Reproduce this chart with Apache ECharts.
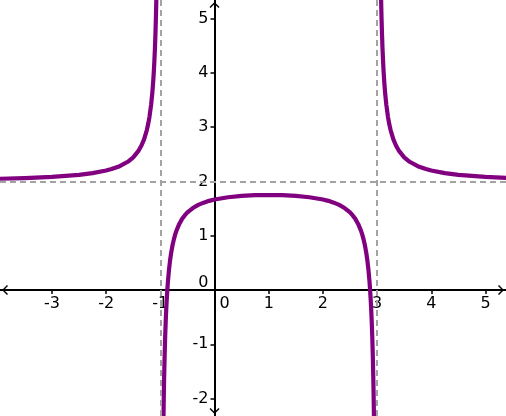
<!DOCTYPE html>
<html><head><meta charset="utf-8">
<script src="https://cdn.jsdelivr.net/npm/echarts@6/dist/echarts.min.js"></script>
<style>html,body{margin:0;padding:0;background:#fff}#c{width:506px;height:416px}</style>
</head><body><div id="c"></div>
<script>
// Values
const leftX  = [-4, -3.5, -3, -2.5, -2.25, -2, -1.9, -1.75, -1.6, -1.5, -1.4, -1.35, -1.3, -1.25, -1.225, -1.2, -1.17, -1.15, -1.14, -1.13, -1.12, -1.11, -1.1, -1.09, -1.08, -1.07, -1.06];
const leftY  = [2.048, 2.062, 2.083, 2.121, 2.152, 2.200, 2.227, 2.281, 2.362, 2.444, 2.568, 2.657, 2.775, 2.941, 3.052, 3.190, 3.411, 3.606, 3.725, 3.863, 4.023, 4.212, 4.439, 4.717, 5.064, 5.510, 6.105];
const midX   = [-0.945, -0.94, -0.935, -0.93, -0.92, -0.91, -0.9, -0.89, -0.88, -0.87, -0.86, -0.84, -0.82, -0.8, -0.775, -0.75, -0.725, -0.7, -0.65, -0.6, -0.55, -0.5, -0.4, -0.3, -0.2, -0.1, 0, 0.25, 0.5, 0.75, 1, 1.25, 1.5, 1.75, 2, 2.1, 2.2, 2.3, 2.4, 2.5, 2.55, 2.6, 2.65, 2.7, 2.725, 2.75, 2.775, 2.8, 2.82, 2.84, 2.86, 2.87, 2.88, 2.89, 2.9, 2.91, 2.92, 2.93, 2.935, 2.94, 2.945];
const midY   = [-2.609, -2.230, -1.910, -1.635, -1.189, -0.842, -0.564, -0.337, -0.148, 0.012, 0.150, 0.372, 0.546, 0.684, 0.823, 0.933, 1.024, 1.099, 1.217, 1.306, 1.374, 1.429, 1.510, 1.567, 1.609, 1.642, 1.667, 1.709, 1.733, 1.746, 1.750, 1.746, 1.733, 1.709, 1.667, 1.642, 1.609, 1.567, 1.510, 1.429, 1.374, 1.306, 1.217, 1.099, 1.024, 0.933, 0.823, 0.684, 0.546, 0.372, 0.150, 0.012, -0.148, -0.337, -0.564, -0.842, -1.189, -1.635, -1.910, -2.230, -2.609];
const rightX = [3.06, 3.07, 3.08, 3.09, 3.1, 3.11, 3.12, 3.13, 3.14, 3.15, 3.17, 3.2, 3.225, 3.25, 3.3, 3.35, 3.4, 3.5, 3.6, 3.75, 3.9, 4, 4.25, 4.5, 5, 5.5];
const rightY = [6.105, 5.510, 5.064, 4.717, 4.439, 4.212, 4.023, 3.863, 3.725, 3.606, 3.411, 3.190, 3.052, 2.941, 2.775, 2.657, 2.568, 2.444, 2.362, 2.281, 2.227, 2.200, 2.152, 2.121, 2.083, 2.062];

const xTickValues = [-3, -2, -1, 0, 1, 2, 3, 4, 5];
const xTickLabels = ['-3', '-2', '-1', '0', '1', '2', '3', '4', '5'];
const yTickValues = [-2, -1, 0, 1, 2, 3, 4, 5];
const yTickLabels = ['-2', '-1', '0', '1', '2', '3', '4', '5'];
const vAsymptotes = [-1, 3];
const hAsymptotes = [2];

const zip = (xs, ys) => xs.map((x, i) => [x, ys[i]]);
const fmt = (vals, labs, zeroStyle) => v => {
  const i = vals.findIndex(t => Math.abs(t - v) < 1e-9);
  if (i < 0) return '';
  return v === 0 ? '{' + zeroStyle + '|' + labs[i] + '}' : labs[i];
};
const arrow = 'path://M10,0 L20,10 L18,12 L10,4 L2,12 L0,10 Z';
const labelFont = { fontFamily: 'DejaVu Sans', fontSize: 16, color: '#000' };
const curveStyle = { color: '#800080', width: 4.2, join: 'round', cap: 'round' };
const curve = (xs, ys) => ({ type: 'line', data: zip(xs, ys), showSymbol: false, smooth: false,
  lineStyle: curveStyle, silent: true, z: 3 });

const chart = echarts.init(document.getElementById('c'), null, { renderer: 'canvas' });
chart.setOption({
  animation: false,
  grid: { left: 0, right: 0, top: 0, bottom: 0, containLabel: false, outerBoundsMode: 'none' },
  xAxis: {
    type: 'value', min: -3.958, max: 5.378, position: 'bottom', offset: 0,
    splitLine: { show: false },
    axisLine: { onZero: false, lineStyle: { color: '#000', width: 2 },
      symbol: [arrow, arrow], symbolSize: [10, 6], symbolOffset: [5, -5] },
    axisTick: { show: true, length: 4, customValues: xTickValues.filter(v => v !== 0),
      lineStyle: { color: '#000', width: 1.5 } },
    axisLabel: Object.assign({ customValues: xTickValues, margin: 6, hideOverlap: false,
      formatter: fmt(xTickValues, xTickLabels, 'zx'),
      rich: { zx: Object.assign({ padding: [0, 0, 0, 20] }, labelFont) } }, labelFont)
  },
  yAxis: {
    type: 'value', min: -2.32, max: 5.341, position: 'left', offset: 0,
    splitLine: { show: false },
    axisLine: { onZero: false, lineStyle: { color: '#000', width: 2 },
      symbol: [arrow, arrow], symbolSize: [10, 6], symbolOffset: [5, -5] },
    axisTick: { show: true, length: 4, customValues: yTickValues.filter(v => v !== 0),
      lineStyle: { color: '#000', width: 1.5 } },
    axisLabel: Object.assign({ customValues: yTickValues, margin: 6, hideOverlap: false,
      formatter: fmt(yTickValues, yTickLabels, 'zy'),
      rich: { zy: Object.assign({ padding: [0, 0, 14, 0] }, labelFont) } }, labelFont)
  },
  series: [
    { type: 'line', data: [], silent: true,
      markLine: { silent: true, symbol: 'none', label: { show: false },
        emphasis: { disabled: true },
        lineStyle: { type: [6, 4], color: '#a3a3a3', width: 2 },
        data: vAsymptotes.map(v => ({ xAxis: v })).concat(hAsymptotes.map(v => ({ yAxis: v }))) } },
    curve(leftX, leftY),
    curve(midX, midY),
    curve(rightX, rightY)
  ]
});
// Move both axes onto the origin, using the library's own scales
const origin = chart.convertToPixel({ gridIndex: 0 }, [0, 0]);
chart.setOption({
  xAxis: { offset: -(chart.getHeight() - origin[1]) },
  yAxis: { offset: -origin[0] }
});
</script>
</body></html>
